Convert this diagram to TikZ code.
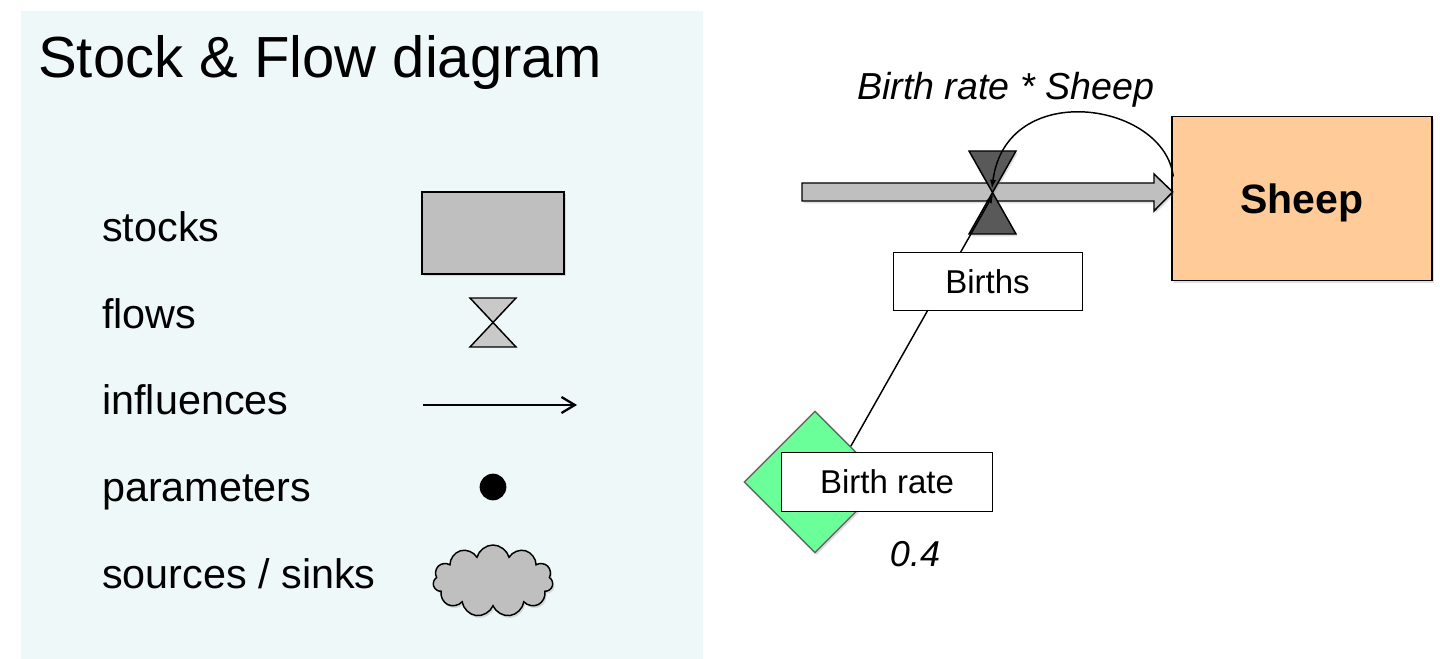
\documentclass[tikz,border=0pt]{standalone}
\usepackage{fontspec}
\setmainfont{Liberation Sans}
\usetikzlibrary{shapes.geometric,shapes.symbols,shadows,calc,arrows.meta}

\definecolor{fondo}{RGB}{239,248,248}
\definecolor{gris}{RGB}{191,191,191}
\definecolor{grisosc}{RGB}{89,89,89}
\definecolor{durazno}{RGB}{255,204,153}
\definecolor{verde}{RGB}{106,255,152}

\tikzset{
  estilo sd/.style={
      x=0.75pt, y=-0.75pt,
      sombra/.style={drop shadow={shadow xshift=1.2pt, shadow yshift=-1.8pt, opacity=0.25}},
      leyenda/.style={anchor=base west, inner sep=0pt, font={\fontsize{31}{37}\selectfont}},
      stock/.style={rectangle, draw, line width=1.5pt, fill=gris, inner sep=0pt, sombra},
      caja/.style={rectangle, draw, line width=0.75pt, fill=white, inner sep=0pt,
          minimum height=44pt, font={\fontsize{24.75}{30}\selectfont}},
      valvula/.style={draw, line width=1.1pt, line join=miter},
      influ/.style={-latex, line width=1.1pt},
    },
}

\begin{document}
\begin{tikzpicture}[estilo sd]
  \useasboundingbox (0,0) rectangle (1440,659);
  \fill[fondo] (21,11) rectangle (703,659);

  % leyenda
  \node[anchor=base west, inner sep=0pt, font={\fontsize{43.5}{52}\selectfont}] (titulo) at (38,78) {Stock \& Flow diagram};
  \node[leyenda] (l-stocks) at (102,241.7) {stocks};
  \node[leyenda] (l-flows) at (102,328.3) {flows};
  \node[leyenda] (l-influ) at (102,415) {influences};
  \node[leyenda] (l-param) at (102,501.7) {parameters};
  \node[leyenda] (l-nubes) at (102,588.3) {sources / sinks};

  \node[stock, minimum width=106.5pt, minimum height=61.5pt] (s-stock) at (493,233) {};
  \filldraw[valvula, fill=gris!85] (470,298) -- (516,298) -- (470,347) -- (516,347) -- cycle;
  \coordinate (i-ini) at (423,405);
  \coordinate (i-fin) at (577,405);
  \draw[-{Straight Barb[length=10pt, width=12pt]}, line width=1.7pt] (i-ini) -- (i-fin);
  \node[circle, fill, minimum size=20pt, inner sep=0pt] (s-param) at (493,487) {};
  \node[cloud, cloud puffs=11, aspect=1.7, draw, line width=1.1pt, fill=gris, inner sep=0pt,
    minimum width=90pt, minimum height=54pt, sombra] (s-nube) at (493,581) {};

  % modelo
  \node[rectangle, draw, line width=1.1pt, fill=durazno, minimum width=195pt, minimum height=123pt,
    text depth=0pt, sombra, font={\bfseries\fontsize{30.75}{36}\selectfont}] (sheep) at (1302,198.5) {Sheep};
  \coordinate (valv) at (993,192);
  \filldraw[fill=gris, line width=1.1pt, line join=miter, sombra] (802,183) -- (1154,183) -- (1154,174)
    -- (1172.7,192) -- (1154,211) -- (1154,201) -- (802,201) -- cycle;
  \filldraw[valvula, fill=grisosc, sombra] (969,151) -- (1016,151) -- (969,234) -- (1016,234) -- cycle;

  \node[anchor=base west, inner sep=0pt, font={\itshape\fontsize{28.2}{34}\selectfont}] (formula) at (857,100) {Birth rate * Sheep};
  \draw[influ] ($(sheep.west)+(2,-22)$) .. controls +(-9,-75) and +(14,-110) .. ($(valv)+(-1,-4)$);

  \node[diamond, draw=black!60, line width=1.1pt, fill=verde, inner sep=0pt, minimum size=106.5pt, sombra] (tasa) at (815,482) {};
  \draw[influ] (tasa.north east) -- ($(valv)+(0,3)$);

  \node[caja, minimum width=141.75pt] (births) at (987.5,281.5) {Births};
  \node[caja, minimum width=158.8pt] (b-rate) at (887,482) {Birth rate};
  \node[anchor=base, font={\itshape\fontsize{27}{32}\selectfont}] (valor) at (915,566) {0.4};
\end{tikzpicture}
\end{document}
